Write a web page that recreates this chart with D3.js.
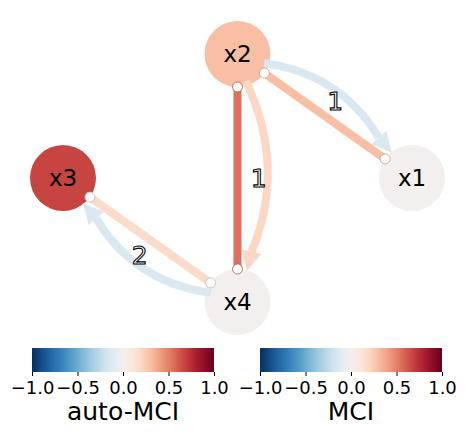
<!DOCTYPE html>
<html><head><meta charset="utf-8">
<script src="https://cdn.jsdelivr.net/npm/d3@7"></script>
<style>body{margin:0;background:#fff}</style></head>
<body><svg id="c" width="474" height="434"></svg>
<script>
const nodes = ["x1","x2","x3","x4"];
const nodeGX = [1.0, 0.5, 0.0, 0.5];
const nodeGY = [0.5, 0.0, 0.5, 1.0];
const autoMCI = [0.0, 0.3, 0.68, 0.0];
const linkA = ["x2","x2","x4"], linkB = ["x4","x1","x3"], linkVal = [0.55, 0.3, 0.18];
const lagS = ["x2","x2","x4"], lagT = ["x1","x4","x3"], lagVal = [-0.15, 0.2, -0.15], lagLbl = ["1","1","2"];
const ticks = [-1.0,-0.5,0.0,0.5,1.0];

const svg = d3.select("#c");
const col = v => d3.interpolateRdBu((1 - v) / 2);
const sx = d3.scaleLinear().domain([0,1]).range([63,412]);
const sy = d3.scaleLinear().domain([0,1]).range([54,302]);
const R = 33;
const pos = n => { const i = nodes.indexOf(n); return [sx(nodeGX[i]), sy(nodeGY[i])]; };

const gN = svg.append("g"), gE = svg.append("g"), gL = svg.append("g");

nodes.forEach((n,i)=>{
  gN.append("circle").attr("cx",sx(nodeGX[i])).attr("cy",sy(nodeGY[i])).attr("r",R).attr("fill",col(autoMCI[i]));
  gN.append("text").attr("x",sx(nodeGX[i])).attr("y",sy(nodeGY[i])).attr("dy","0.36em").attr("text-anchor","middle")
    .attr("font-family","DejaVu Sans").attr("font-size",23).text(n);
});

lagS.forEach((s,i)=>{
  const [x0,y0]=pos(s),[x1,y1]=pos(lagT[i]);
  const dx=x1-x0,dy=y1-y0,L=Math.hypot(dx,dy);
  const px=dy/L,py=-dx/L;
  const k=0.17*L;
  const cx=(x0+x1)/2+px*k, cy=(y0+y1)/2+py*k;
  const q=(t)=>[(1-t)*(1-t)*x0+2*(1-t)*t*cx+t*t*x1,(1-t)*(1-t)*y0+2*(1-t)*t*cy+t*t*y1];
  const t0=(R-6)/L, t1=1-(R-2)/L;
  const a=q(t0), b=q(t1);
  const tx=2*(1-t1)*(cx-x0)+2*t1*(x1-cx), ty=2*(1-t1)*(cy-y0)+2*t1*(y1-cy), tl=Math.hypot(tx,ty);
  const ux=tx/tl,uy=ty/tl, ah=20, aw=10;
  const base=[b[0]-ux*ah,b[1]-uy*ah];
  const c2x=(a[0]+base[0])/2+px*k*0.9, c2y=(a[1]+base[1])/2+py*k*0.9;
  const c=col(lagVal[i]);
  gE.append("path").attr("d",`M${a[0]},${a[1]}Q${c2x},${c2y} ${base[0]},${base[1]}`)
    .attr("fill","none").attr("stroke",c).attr("stroke-width",8);
  gE.append("path").attr("d",`M${b[0]},${b[1]}L${base[0]-uy*aw},${base[1]+ux*aw}L${base[0]+uy*aw},${base[1]-ux*aw}Z`).attr("fill",c);
  const m=q(0.5);
  gL.append("text").attr("x",m[0]).attr("y",m[1]).attr("dy","0.36em").attr("text-anchor","middle")
    .attr("font-family","DejaVu Sans").attr("font-size",25).attr("fill","#fff").attr("stroke","#000")
    .attr("stroke-width",1.1).text(lagLbl[i]);
});

linkA.forEach((s,i)=>{
  const [x0,y0]=pos(s),[x1,y1]=pos(linkB[i]);
  const dx=x1-x0,dy=y1-y0,L=Math.hypot(dx,dy),ux=dx/L,uy=dy/L;
  const a=[x0+ux*R,y0+uy*R], b=[x1-ux*R,y1-uy*R];
  const c=col(linkVal[i]);
  gE.append("line").attr("x1",a[0]).attr("y1",a[1]).attr("x2",b[0]).attr("y2",b[1]).attr("stroke",c).attr("stroke-width",8);
  [a,b].forEach(p=>gE.append("circle").attr("cx",p[0]).attr("cy",p[1]).attr("r",5).attr("fill","#fff")
    .attr("stroke",d3.color(c).darker(0.6)).attr("stroke-width",0.8));
});

const defs=svg.append("defs");
const gr=defs.append("linearGradient").attr("id","rdbu");
d3.range(0,1.001,0.05).forEach(t=>gr.append("stop").attr("offset",t).attr("stop-color",col(t*2-1)));
[[32,214,"auto-MCI"],[260,442,"MCI"]].forEach(([l,r,title])=>{
  const s=d3.scaleLinear().domain([-1,1]).range([l,r]);
  svg.append("rect").attr("x",l).attr("y",348).attr("width",r-l).attr("height",24).attr("fill","url(#rdbu)");
  const ax=svg.append("g").attr("transform","translate(0,372)")
    .call(d3.axisBottom(s).tickValues(ticks).tickFormat(d=>d3.format(".1f")(d).replace("-","\u2212")).tickSize(4));
  ax.select(".domain").remove();
  ax.selectAll("text").attr("font-family","DejaVu Sans").attr("font-size",18).attr("fill","#000").attr("dy","0.85em");
  svg.append("text").attr("x",(l+r)/2).attr("y",420).attr("text-anchor","middle").attr("font-family","DejaVu Sans")
    .attr("font-size",25).text(title);
});
</script></body></html>
